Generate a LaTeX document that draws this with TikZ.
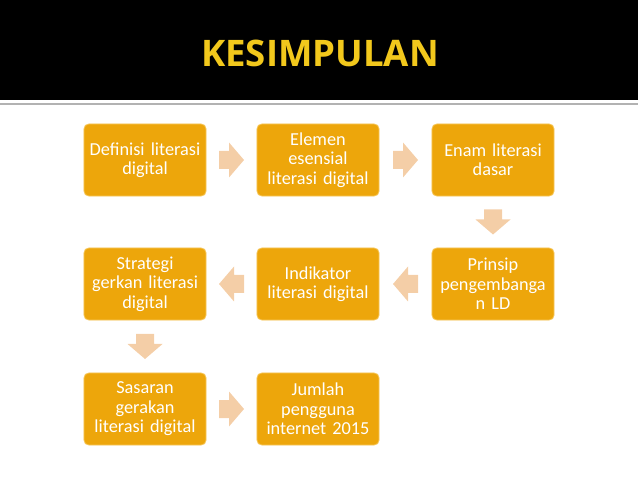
\documentclass[tikz,border=0pt]{standalone}
\usepackage{fontspec}
\setmainfont{Carlito}
\newfontfamily\titlefont{Open Sans}
\usetikzlibrary{calc}

\definecolor{boxorange}{HTML}{EDA60B}
\definecolor{boxedge}{HTML}{F6C659}
\definecolor{arrowpeach}{HTML}{F4CEA7}
\definecolor{titlegold}{HTML}{F2C81C}

\tikzset{
    stepbox/.style={draw=boxedge, line width=0.6pt, fill=boxorange, rounded corners=0.12cm,
        minimum width=3.05cm, minimum height=1.8cm, text width=3cm, align=center,
        text=white, font=\fontsize{13}{13.8}\selectfont, inner sep=0pt},
    flowarrow/.pic={
        \fill[arrowpeach] (-12.5,-9) -- (-2.5,-9) -- (-2.5,-17.5) -- (12.5,0)
            -- (-2.5,17.5) -- (-2.5,9) -- (-12.5,9) -- cycle;
    },
}

\begin{document}
\begin{tikzpicture}[x=0.025cm, y=-0.025cm]
    \useasboundingbox (0,0) rectangle (638,478);
    \fill[black] (0,0) rectangle (638,100);
    \draw[gray!60, line width=0.8pt] (0,104) -- (638,104);
    \node[text=titlegold, font=\titlefont\bfseries\fontsize{26}{30}\selectfont] (title) at (320,53) {KESIMPULAN};

    % first row
    \node[stepbox] (definisi) at (145,160) {Definisi literasi\\digital};
    \node[stepbox] (elemen) at (318,160) {Elemen\\esensial\\literasi digital};
    \node[stepbox] (enam) at (493,160) {Enam literasi\\dasar};
    % second row
    \node[stepbox] (strategi) at (145,284) {Strategi\\gerkan literasi\\digital};
    \node[stepbox] (indikator) at (318,284) {Indikator\\literasi digital};
    \node[stepbox] (prinsip) at (493,284) {Prinsip\\pengembanga\\n LD};
    % third row
    \node[stepbox] (sasaran) at (145,409) {Sasaran\\gerakan\\literasi digital};
    \node[stepbox] (jumlah) at (318,409) {Jumlah\\pengguna\\internet 2015};

    % block arrows between the boxes
    \pic at ($(definisi)!0.5!(elemen)$) {flowarrow};
    \pic at ($(elemen)!0.5!(enam)$) {flowarrow};
    \pic[rotate=-90] at ($(enam)!0.5!(prinsip)$) {flowarrow};
    \pic[rotate=180] at ($(prinsip)!0.5!(indikator)$) {flowarrow};
    \pic[rotate=180] at ($(indikator)!0.5!(strategi)$) {flowarrow};
    \pic[rotate=-90] at ($(strategi)!0.5!(sasaran)$) {flowarrow};
    \pic at ($(sasaran)!0.5!(jumlah)$) {flowarrow};
\end{tikzpicture}
\end{document}
